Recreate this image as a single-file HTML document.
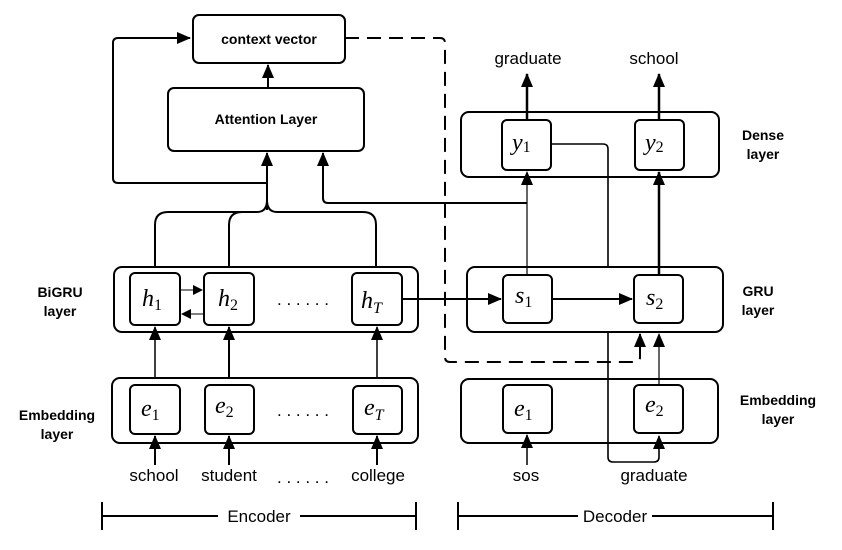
<!DOCTYPE html>
<html><head><meta charset="utf-8"><style>
body{margin:0;background:#fff}
svg{display:block}
.b{font-family:"Liberation Sans",sans-serif;font-weight:bold;font-size:14px}
.n{font-family:"Liberation Sans",sans-serif;font-size:17px}
.m{font-family:"Liberation Serif",serif;font-style:italic;font-size:24px}
.s{font-family:"Liberation Serif",serif;font-size:16px}
</style></head><body>
<svg width="842" height="550" viewBox="0 0 842 550" xmlns="http://www.w3.org/2000/svg">
<defs>
<marker id="a" markerWidth="10" markerHeight="10" refX="9" refY="5" orient="auto" markerUnits="userSpaceOnUse" viewBox="0 0 10 10"><path d="M0,0 L10,5 L0,10 z" fill="#000"/></marker>
<marker id="a2" markerWidth="14" markerHeight="14" refX="13" refY="7" orient="auto" markerUnits="userSpaceOnUse" viewBox="0 0 14 14"><path d="M0,1 L14,7 L0,13 z" fill="#000"/></marker>
</defs>
<g fill="none" stroke="#000" stroke-width="2">
<path d="M267,183 H118 Q113,183 113,178 V43 Q113,38 118,38 H190" marker-end="url(#a2)"/>
<path d="M267,210 V153" marker-end="url(#a2)"/>
<path d="M155,270 V225 Q155,212 168,212 H257 Q267,212 267,200"/>
<path d="M229,270 V225 Q229,212 242,212 H257"/>
<path d="M376,270 V225 Q376,212 363,212 H277 Q267,212 267,200"/>
<path d="M527,203 H328 Q323,203 323,198 V153" marker-end="url(#a2)"/>
<path d="M268,88 V65" marker-end="url(#a2)"/>
<path d="M345,38 H440 Q445,38 445,43 V357 Q445,362 450,362 H635 Q640,362 640,357 V334" stroke-dasharray="14,8" marker-end="url(#a2)"/>
</g>
<g fill="#fff" stroke="#000" stroke-width="2">
<rect x="193" y="15" width="152" height="48" rx="6"/>
<rect x="168" y="88" width="196" height="63" rx="6"/>
<rect x="114" y="267" width="304" height="65" rx="8"/>
<rect x="112" y="378" width="306" height="65" rx="8"/>
<rect x="461" y="112" width="258" height="65" rx="8"/>
<rect x="467" y="267" width="256" height="65" rx="8"/>
<rect x="461" y="379" width="257" height="64" rx="8"/>
<rect x="130" y="273" width="50" height="52" rx="5"/>
<rect x="204" y="273" width="50" height="52" rx="5"/>
<rect x="352" y="273" width="50" height="52" rx="5"/>
<rect x="130" y="385" width="50" height="49" rx="5"/>
<rect x="205" y="385" width="49" height="49" rx="5"/>
<rect x="353" y="386" width="49" height="48" rx="5"/>
<rect x="502" y="120" width="49" height="50" rx="5"/>
<rect x="635" y="120" width="49" height="50" rx="5"/>
<rect x="503" y="275" width="49" height="48" rx="5"/>
<rect x="634" y="275" width="49" height="48" rx="5"/>
<rect x="503" y="385" width="49" height="48" rx="5"/>
<rect x="634" y="385" width="49" height="48" rx="5"/>
</g>
<g fill="none" stroke="#000" stroke-width="2">
<path d="M551,144 H603 Q608,144 608,149 V267" stroke-width="1.6"/>
<path d="M608,333 V457 Q608,462 613,462 H654 Q659,462 659,457 V436" stroke-width="1.6" marker-end="url(#a2)"/>
<path d="M180,290 H202" stroke-width="1" marker-end="url(#a)"/>
<path d="M204,314 H182" stroke-width="1" marker-end="url(#a)"/>
<path d="M229,378 V327" marker-end="url(#a2)"/>
<path d="M155,378 V327" stroke-width="1.5" marker-end="url(#a2)"/>
<path d="M377,378 V327" stroke-width="1.5" marker-end="url(#a2)"/>
<path d="M155,465 V436" marker-end="url(#a2)"/>
<path d="M229,465 V436" marker-end="url(#a2)"/>
<path d="M377,465 V436" marker-end="url(#a2)"/>
<path d="M527,465 V435" stroke-width="1.5" marker-end="url(#a2)"/>
<path d="M402,299 H501" marker-end="url(#a2)"/>
<path d="M552,299 H632" marker-end="url(#a2)"/>
<path d="M527,275 V172" stroke-width="1.2" marker-end="url(#a2)"/>
<path d="M659,275 V172" stroke-width="2.5" marker-end="url(#a2)"/>
<path d="M659,385 V334" stroke-width="1.2" marker-end="url(#a2)"/>
<path d="M527,120 V74" stroke-width="2.5" marker-end="url(#a2)"/>
<path d="M659,120 V74" stroke-width="2.5" marker-end="url(#a2)"/>
<path d="M102,502 V530 M416,502 V530 M102,516 H218 M300,516 H416"/>
<path d="M458,502 V530 M773,502 V530 M458,516 H578 M652,516 H773"/>
</g>
<g text-anchor="middle">
<text x="269" y="44" class="b">context vector</text>
<text x="266" y="124" class="b">Attention Layer</text>
<text x="60" y="297" class="b">BiGRU</text><text x="60" y="316" class="b">layer</text>
<text x="57" y="420" class="b">Embedding</text><text x="57" y="439" class="b">layer</text>
<text x="763" y="140" class="b">Dense</text><text x="763" y="159" class="b">layer</text>
<text x="758" y="296" class="b">GRU</text><text x="758" y="315" class="b">layer</text>
<text x="778" y="405" class="b">Embedding</text><text x="778" y="424" class="b">layer</text>
<text x="528" y="64" class="n">graduate</text>
<text x="654" y="64" class="n">school</text>
<text x="154" y="481" class="n">school</text>
<text x="229" y="481" class="n">student</text>
<text x="378" y="481" class="n">college</text>
<text x="303" y="483" class="n">. . . . . .</text>
<text x="303" y="305" class="n">. . . . . .</text>
<text x="303" y="416" class="n">. . . . . .</text>
<text x="526" y="481" class="n">sos</text>
<text x="654" y="481" class="n">graduate</text>
<text x="259" y="522" class="n">Encoder</text>
<text x="615" y="522" class="n">Decoder</text>
</g>
<g>
<text x="142" y="306" class="m">h<tspan class="s" font-style="normal" dy="4">1</tspan></text>
<text x="218" y="306" class="m">h<tspan class="s" font-style="normal" dy="4">2</tspan></text>
<text x="361" y="308" class="m">h<tspan class="s" dy="5">T</tspan></text>
<text x="141" y="416" class="m">e<tspan class="s" font-style="normal" dy="4">1</tspan></text>
<text x="215" y="413" class="m">e<tspan class="s" font-style="normal" dy="4">2</tspan></text>
<text x="364" y="415" class="m">e<tspan class="s" dy="5">T</tspan></text>
<text x="512" y="150" class="m">y<tspan class="s" font-style="normal" dy="2">1</tspan></text>
<text x="645" y="150" class="m">y<tspan class="s" font-style="normal" dy="2">2</tspan></text>
<text x="515" y="303" class="m">s<tspan class="s" font-style="normal" dy="4">1</tspan></text>
<text x="646" y="305" class="m">s<tspan class="s" font-style="normal" dy="4">2</tspan></text>
<text x="514" y="416" class="m">e<tspan class="s" font-style="normal" dy="4">1</tspan></text>
<text x="645" y="412" class="m">e<tspan class="s" font-style="normal" dy="4">2</tspan></text>
</g>
</svg>
</body></html>
